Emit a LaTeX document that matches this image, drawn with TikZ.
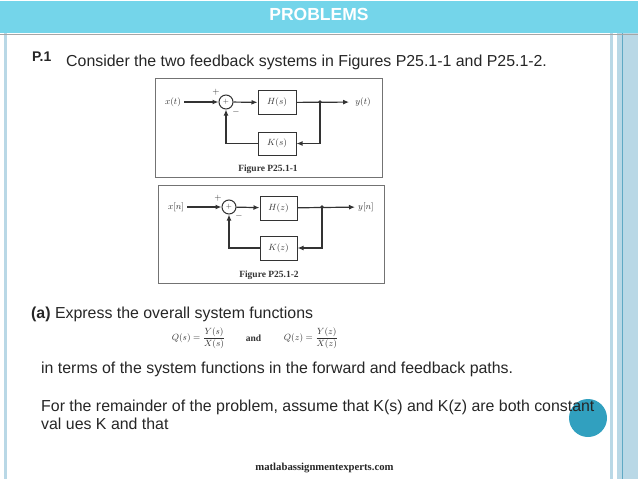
\documentclass[tikz,border=0pt]{standalone}
\usepackage{fontspec}
\setmainfont{Liberation Sans}
\newfontfamily\capfont{Liberation Serif}
\usetikzlibrary{arrows.meta}
\definecolor{headblue}{HTML}{74D5EA}
\definecolor{barblue}{HTML}{B9D8E6}
\definecolor{lineblue}{HTML}{5FA9C4}
\definecolor{dotblue}{HTML}{31A0BF}
\definecolor{inkgray}{HTML}{333333}
\begin{document}
\begin{tikzpicture}[
        x=1pt, y=-1pt,
        body/.style={anchor=base west, inner sep=0pt, font=\fontsize{15.9}{16}\selectfont, text=black!85},
        block/.style={draw=inkgray, line width=1pt, inner sep=0pt, font=\fontsize{9}{9}\selectfont, text=inkgray},
        sum/.style={draw=inkgray, line width=1pt, circle, minimum size=14pt, inner sep=0pt, font=\fontsize{7}{7}\selectfont, text=inkgray},
        sig/.style={inner sep=0pt, font=\fontsize{9}{9}\selectfont, text=inkgray},
        port/.style={sig, inner xsep=3pt},
        frame/.style={draw=black!55, line width=1pt},
        caption/.style={inner sep=0pt, font=\capfont\bfseries\fontsize{9.5}{9.5}\selectfont, text=inkgray},
        wire/.style={draw=inkgray, line width=1.2pt, -{Latex[length=6pt,width=5pt]}},
        eq/.style={inner sep=0pt, font=\fontsize{9}{9}\selectfont, text=inkgray},
    ]
    \useasboundingbox (0,0) rectangle (638,479);
    % side bars
    \fill[barblue] (4,33) rectangle (7,479);
    \fill[barblue] (610,33) rectangle (613,479);
    \fill[barblue] (617,33) rectangle (638,479);
    \draw[lineblue, line width=0.6pt] (622.5,33) -- (622.5,479);
    % header
    \fill[headblue] (0,1) rectangle (638,33);
    \draw[black!35, line width=0.8pt] (0,34) -- (638,34);
    \node[inner sep=0pt, text=white, font=\bfseries\fontsize{17.5}{17.5}\selectfont] (title) at (319,14.5) {PROBLEMS};
    % circle
    \fill[dotblue] (588,418) circle (19);
    % text
    \node[body, font=\bfseries\fontsize{14}{14}\selectfont] (pnum) at (32,61) {P.1};
    \node[body] (intro) at (66,66) {Consider the two feedback systems in Figures P25.1-1 and P25.1-2.};
    \node[body] (parta) at (31,318) {\textbf{(a)} Express the overall system functions};
    \node[body] (terms) at (41,373) {in terms of the system functions in the forward and feedback paths.};
    \node[body] (rem1) at (41,411) {For the remainder of the problem, assume that K(s) and K(z) are both constant};
    \node[body] (rem2) at (41,429) {val ues K and that};
    \node[inner sep=0pt, font=\capfont\bfseries\fontsize{10.7}{10.7}\selectfont, text=black!85] (site) at (324.5,468) {matlabassignmentexperts.com};
    % equations
    \node[eq] (qs) at (198.5,338) {$Q(s)=\displaystyle\frac{Y(s)}{X(s)}$};
    \node[eq, font=\capfont\bfseries\fontsize{9.5}{9.5}\selectfont] (and) at (253.5,338) {and};
    \node[eq] (qz) at (311,338) {$Q(z)=\displaystyle\frac{Y(z)}{X(z)}$};
    % figure 1
    \draw[frame] (155,78) rectangle (382,177);
    \node[sum] (sum1) at (226,102) {$+$};
    \node[block, minimum width=38pt, minimum height=24pt] (H1) at (277,102.5) {$H(s)$};
    \node[block, minimum width=38pt, minimum height=23pt] (K1) at (277,143.5) {$K(s)$};
    \node[port] (x1) at (173,102) {$x(t)$};
    \node[port, inner xsep=6pt] (y1) at (363,102) {$y(t)$};
    \node[sig] (plus1) at (216,92) {$+$};
    \node[sig] (minus1) at (236,112) {$-$};
    \node[caption] (cap1) at (268,169) {Figure P25.1-1};
    \coordinate (tap1) at (320,102);
    \draw[wire] (x1) -- (sum1);
    \draw[wire] (sum1) -- (H1);
    \draw[wire] (H1) -- (y1);
    \draw[wire] (tap1) |- (K1);
    \draw[wire] (K1) -| (sum1);
    \fill[inkgray] (tap1) circle (1.8);
    % figure 2
    \draw[frame] (158,185) rectangle (384,283);
    \node[sum] (sum2) at (229,207) {$+$};
    \node[block, minimum width=37pt, minimum height=24pt] (H2) at (278.5,208) {$H(z)$};
    \node[block, minimum width=37pt, minimum height=24pt] (K2) at (278.5,248) {$K(z)$};
    \node[port] (x2) at (176,207) {$x[n]$};
    \node[port] (y2) at (366,207) {$y[n]$};
    \node[sig] (plus2) at (218,198) {$+$};
    \node[sig] (minus2) at (239,216) {$-$};
    \node[caption] (cap2) at (269,275) {Figure P25.1-2};
    \coordinate (tap2) at (322,207);
    \draw[wire] (x2) -- (sum2);
    \draw[wire] (sum2) -- (H2);
    \draw[wire] (H2) -- (y2);
    \draw[wire] (tap2) |- (K2);
    \draw[wire] (K2) -| (sum2);
    \fill[inkgray] (tap2) circle (1.8);
\end{tikzpicture}
\end{document}
